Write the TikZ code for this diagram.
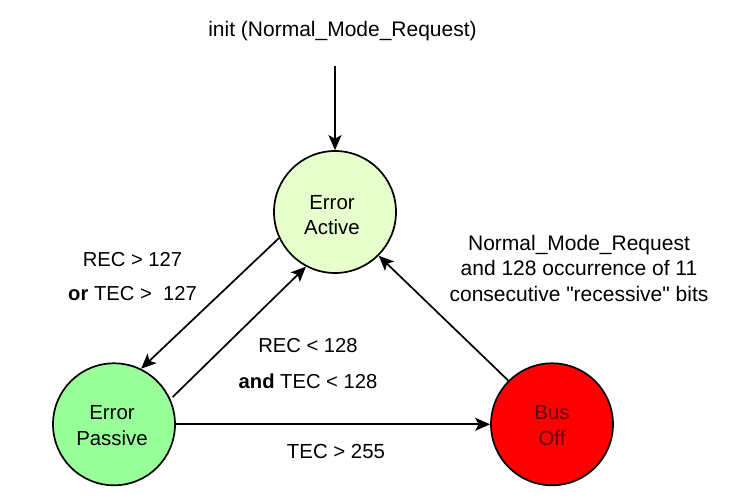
\documentclass[tikz,border=0pt]{standalone}
\usepackage{fontspec}
\setmainfont{Liberation Sans}
\font\straightq="Liberation Sans" at 21pt
\usetikzlibrary{arrows.meta}
\definecolor{activefill}{HTML}{E6FFCC}
\definecolor{passivefill}{HTML}{99FF99}
\definecolor{busfill}{HTML}{FF0000}
\definecolor{busink}{HTML}{600000}
\tikzset{
  state/.style={circle,draw=black,line width=1.7pt,minimum size=122pt,inner sep=0pt},
  conn/.style={line width=1.7pt,-{Stealth[length=15pt,width=13pt,inset=3.5pt]}},
  lbl/.style={align=center,inner sep=0pt,font=\fontsize{20.4}{25.5}\selectfont},
  biglbl/.style={lbl,font=\fontsize{21}{25.5}\selectfont},
}
\begin{document}
\begin{tikzpicture}[x=1pt,y=-1pt]
\useasboundingbox (0,0) rectangle (733,500);
\node[state,fill=activefill] (active) at (335,212) {};
\node[state,fill=passivefill] (passive) at (114,424.3) {};
\node[state,fill=busfill] (bus) at (552,424.3) {};
\node[lbl] (activetext) at (332,215) {Error\\Active};
\node[lbl] (passivetext) at (112,425.5) {Error\\Passive};
\node[lbl,text=busink] (bustext) at (552,425.5) {Bus\\Off};
\coordinate (start) at (335,66);
\node[biglbl] (init) at (342.5,31) {init (Normal\_Mode\_Request)};
\node[lbl,font=\fontsize{20.2}{34}\selectfont] (l1) at (132.5,276.5) {REC > 127\\\textbf{or} TEC >\ \ 127};
\node[lbl,font=\fontsize{20.2}{36}\selectfont] (l2) at (308,364) {REC < 128\\\textbf{and} TEC < 128};
\node[biglbl] (l3) at (579,268) {Normal\_Mode\_Request\\and 128 occurrence of 11\\consecutive {\straightq"}recessive{\straightq"} bits};
\node[lbl] (l4) at (336,451) {TEC > 255};
\draw[conn] (start) -- (active.north);
\draw[conn] (active.205.8) -- (passive.64);
\draw[conn,shorten <=3pt] (passive.24.6) -- (active.242.6);
\draw[conn] (passive.east) -- (bus.west);
\draw[conn] (bus.135.6) -- (active.-45);
\end{tikzpicture}
\end{document}
